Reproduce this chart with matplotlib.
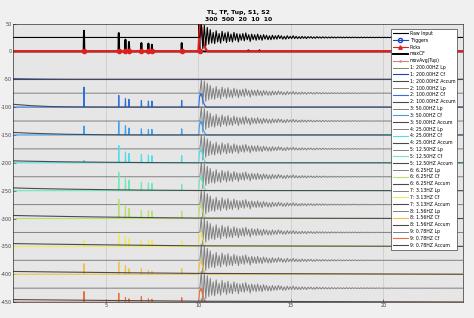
import numpy as np
import matplotlib
matplotlib.use("Agg")
import matplotlib.pyplot as plt
from matplotlib.lines import Line2D

plt.rcParams["axes.unicode_minus"] = False

# time axis of the waveform samples (start, step)
wave_t0 = 10.0
wave_dt = 0.08

# raw input (relative to its baseline)
wave = [0, 0.5, 24, -20, 22, -15, 18, -12, 14, -10,
        9, -11, 12, -8, 7, -10, 11, -6, 8, -9,
        10, -7, 6, -8, 9, -5, 7, -8, 6, -5,
        7, -6, 8, -4, 5, -7, 6, -4, 5, -5,
        6, -4, 4, -5, 5, -3, 4, -4, 3, -4,
        4, -3, 3, -3, 4, -2, 3, -3, 2, -3,
        3, -2, 2, -2, 3, -2, 2, -2, 1.5, -2,
        2, -1.5, 1.5, -2, 1.5, -1, 1.5, -1.5, 1, -1.5,
        1.5, -1, 1, -1.2, 1.2, -1, 1, -1, 0.8, -1,
        1, -0.8, 0.8, -1, 0.8, -0.6, 0.8, -0.8, 0.6, -0.7,
        0.8, -0.6, 0.6, -0.6, 0.7, -0.5, 0.6, -0.6, 0.5, -0.6,
        0.6, -0.5, 0.5, -0.5, 0.5, -0.4, 0.5, -0.4, 0.4, -0.5,
        0.4, -0.3, 0.4, -0.3, 0.3, -0.3, 0.3, -0.3, 0.3, -0.3,
        0.3, -0.2, 0.2, -0.3, 0.2, -0.2, 0.2, -0.2, 0.2, -0.2,
        0.2, -0.2, 0.2, -0.2, 0.2, -0.2, 0.2, -0.2, 0.2, -0.2,
        0.2, -0.2, 0.2, -0.2, 0.2, -0.2, 0.2, -0.2, 0.2, -0.2,
        0.1, -0.1, 0.1, -0.1, 0.1, -0.1, 0.1, -0.1, 0.1, -0.1,
        0.1, -0.1, 0.1, -0.1, 0.1, 0]

raw_base = 25
pick_base = 0

# maxCF spikes (time, height)
spike_t = [3.82, 5.7, 6.06, 6.25, 6.92, 7.3, 7.49, 9.1, 10.05, 12.7, 13.3]
maxcf_h = [37, 33, 21, 17, 15, 14, 12, 15, 50, 2, 2]

# red pick hump around the event
hump_t = [0, 10.0, 10.05, 10.1, 10.15, 10.2, 10.3, 10.4, 10.5, 24.3]
hump_v = [0, 0, 30, 50, 45, 30, 12, 4, 0, 0]
pick_t = [3.82, 5.7, 6.06, 6.25, 6.92, 7.3, 7.49, 9.1, 10.1]

# bands
band_names = ["200.00HZ", "100.00HZ", "50.00HZ", "25.00HZ", "12.50HZ",
              "6.25HZ", "3.13HZ", "1.56HZ", "0.78HZ"]
cf_base = [-50, -100, -150, -200, -250, -300, -350, -400, -450]
lp_base = [-75, -125, -175, -225, -275, -325, -375, -425, -475]
lp_gain = [1.0, 1.0, 1.0, 1.05, 1.1, 1.15, 1.2, 1.25, 1.3]
cf_colors = ["#1f3fbf", "#2f6fdf", "#3f9fef", "#4fdfe8", "#70e8b8",
             "#b8e070", "#f0e860", "#f0c050", "#e8703a"]

# Cf spike heights per band at spike_t[:8]
cf_h = [
    [0, 0, 0, 0, 0, 0, 0, 0],
    [36, 21, 15.5, 14, 12, 11, 11, 12],
    [16, 25, 17, 12.5, 11, 10, 10, 11],
    [4.5, 31, 19.5, 17, 15, 14, 13, 13],
    [1, 33.5, 22, 19, 15, 14, 13, 12],
    [1, 35, 22, 18, 15, 14, 13, 13],
    [10, 23, 18, 14, 12, 11, 11, 10],
    [19, 22, 16, 10, 10, 7, 5, 10],
    [19, 16, 8, 6, 10, 6, 5, 8],
]
# event burst of Cf
burst_t = [10.02, 10.06, 10.1, 10.14, 10.18, 10.22, 10.28, 10.35, 10.45]
burst_v = [0, 18, 25, 20, 24, 14, 8, 3, 0]

# Accum decay at left (value above baseline)
acc_t = [0, 1, 2, 3, 5, 7, 10, 24.3]
acc_v = [
    [1, 0.5, 0.2, 0, 0, 0, 0, 0],
    [5, 2.5, 1, 0.4, 0, 0, 0, 0],
    [4.5, 3, 2, 1.2, 0.4, 0, 0, 0],
    [3.5, 2.8, 2.2, 1.7, 1, 0.5, 0, 0],
    [5, 4, 3.3, 2.7, 1.8, 1, 0.3, 0],
    [5.5, 4.8, 4.2, 3.6, 2.6, 1.8, 0.8, 0],
    [5, 4.5, 4, 3.6, 2.8, 2, 1, 0],
    [5, 4.6, 4.2, 3.8, 3.1, 2.4, 1.5, 0],
    [4.5, 4.2, 3.9, 3.6, 3, 2.5, 1.6, 0],
]

x_end = 24.3


def spikes(ts, hs, w=0.02):
    xs, ys = [0], [0]
    for t, h in zip(ts, hs):
        xs += [t - w, t, t + w]
        ys += [0, h, 0]
    xs.append(x_end)
    ys.append(0)
    return np.array(xs), np.array(ys)


wave = np.array(wave)
wt = wave_t0 + wave_dt * np.arange(len(wave))
wt_full = np.concatenate([[0], wt, [x_end]])

fig = plt.figure(figsize=(4.74, 3.18), dpi=100, facecolor="#f0f0f0")
ax = fig.add_axes([0.028, 0.05, 0.949, 0.876])
ax.set_facecolor("#e6e6e6")

# bands (drawn first, bottom up)
for i in range(9):
    w_full = np.concatenate([[0], lp_gain[i] * wave, [0]])
    ax.plot(wt_full, lp_base[i] + w_full, color="#808080", lw=0.7,
            label="%d: %s Lp" % (i + 1, band_names[i]))
    sx, sy = spikes(spike_t[:8], cf_h[i])
    bx = np.concatenate([sx[:-1], burst_t, [x_end]])
    by = np.concatenate([sy[:-1], burst_v if i > 0 else np.zeros(len(burst_t)), [0]])
    ax.plot(bx, cf_base[i] + by, color=cf_colors[i], lw=0.8,
            label="%d: %s Cf" % (i + 1, band_names[i]))
    ax.plot(acc_t, cf_base[i] + np.array(acc_v[i]), color="#4a4a4a", lw=0.8,
            label="%d: %s Accum" % (i + 1, band_names[i]))

# top traces
mx, my = spikes(spike_t, maxcf_h)
ax.plot(mx, pick_base + my, color="black", lw=1.4, label="maxCF")
ax.plot(hump_t, np.array(hump_v) + pick_base, color="#e02020", lw=1.6,
        label="movAvg(Tup)")
ax.plot(wt_full, raw_base + np.concatenate([[0], wave, [0]]),
        color="black", lw=0.8, label="Raw Input")
ax.plot([], [], color="#2040d0", lw=0.8, marker="o", mfc="none",
        ms=3, label="Triggers")
ax.plot(pick_t, np.zeros(len(pick_t)) + pick_base, color="#e02020",
        lw=0, marker="o", ms=3, label="Picks")

ax.set_xlim(0, x_end)
ax.set_ylim(-450, 50)
ax.set_xticks([5, 10, 15, 20])
ax.set_yticks(np.arange(-450, 51, 50))
ax.tick_params(direction="in", length=2, width=0.5, labelsize=3.5,
               colors="#404040", pad=1)
ax.grid(axis="x", color="#c8c8c8", lw=0.5)
for s in ax.spines.values():
    s.set_color("#303030")
    s.set_linewidth(0.5)

ax.set_title("TL, TF, Tup, S1, S2\n300  500  20  10  10", fontsize=4.4,
             fontweight="bold", pad=2, linespacing=1.5)

# legend in the original order
handles, labels = ax.get_legend_handles_labels()
lookup = dict(zip(labels, handles))
order = ["Raw Input", "Triggers", "Picks", "maxCF", "movAvg(Tup)"]
for i in range(9):
    for kind in ["Lp", "Cf", "Accum"]:
        order.append("%d: %s %s" % (i + 1, band_names[i], kind))
hs = [lookup[k] for k in order]
hs[2] = Line2D([], [], color="#e02020", lw=0.8, marker="^", ms=2.5)
hs[4] = Line2D([], [], color="#d08080", lw=0.8, marker="+", ms=2)
leg = ax.legend(hs, order, loc="upper right", fontsize=3.3, labelspacing=0.4,
                handlelength=3.3, handletextpad=0.4, borderpad=0.4,
                fancybox=False, framealpha=1, edgecolor="#404040",
                bbox_to_anchor=(0.992, 0.988))
leg.get_frame().set_linewidth(0.5)

fig.savefig("out.png", dpi=100, facecolor=fig.get_facecolor())
